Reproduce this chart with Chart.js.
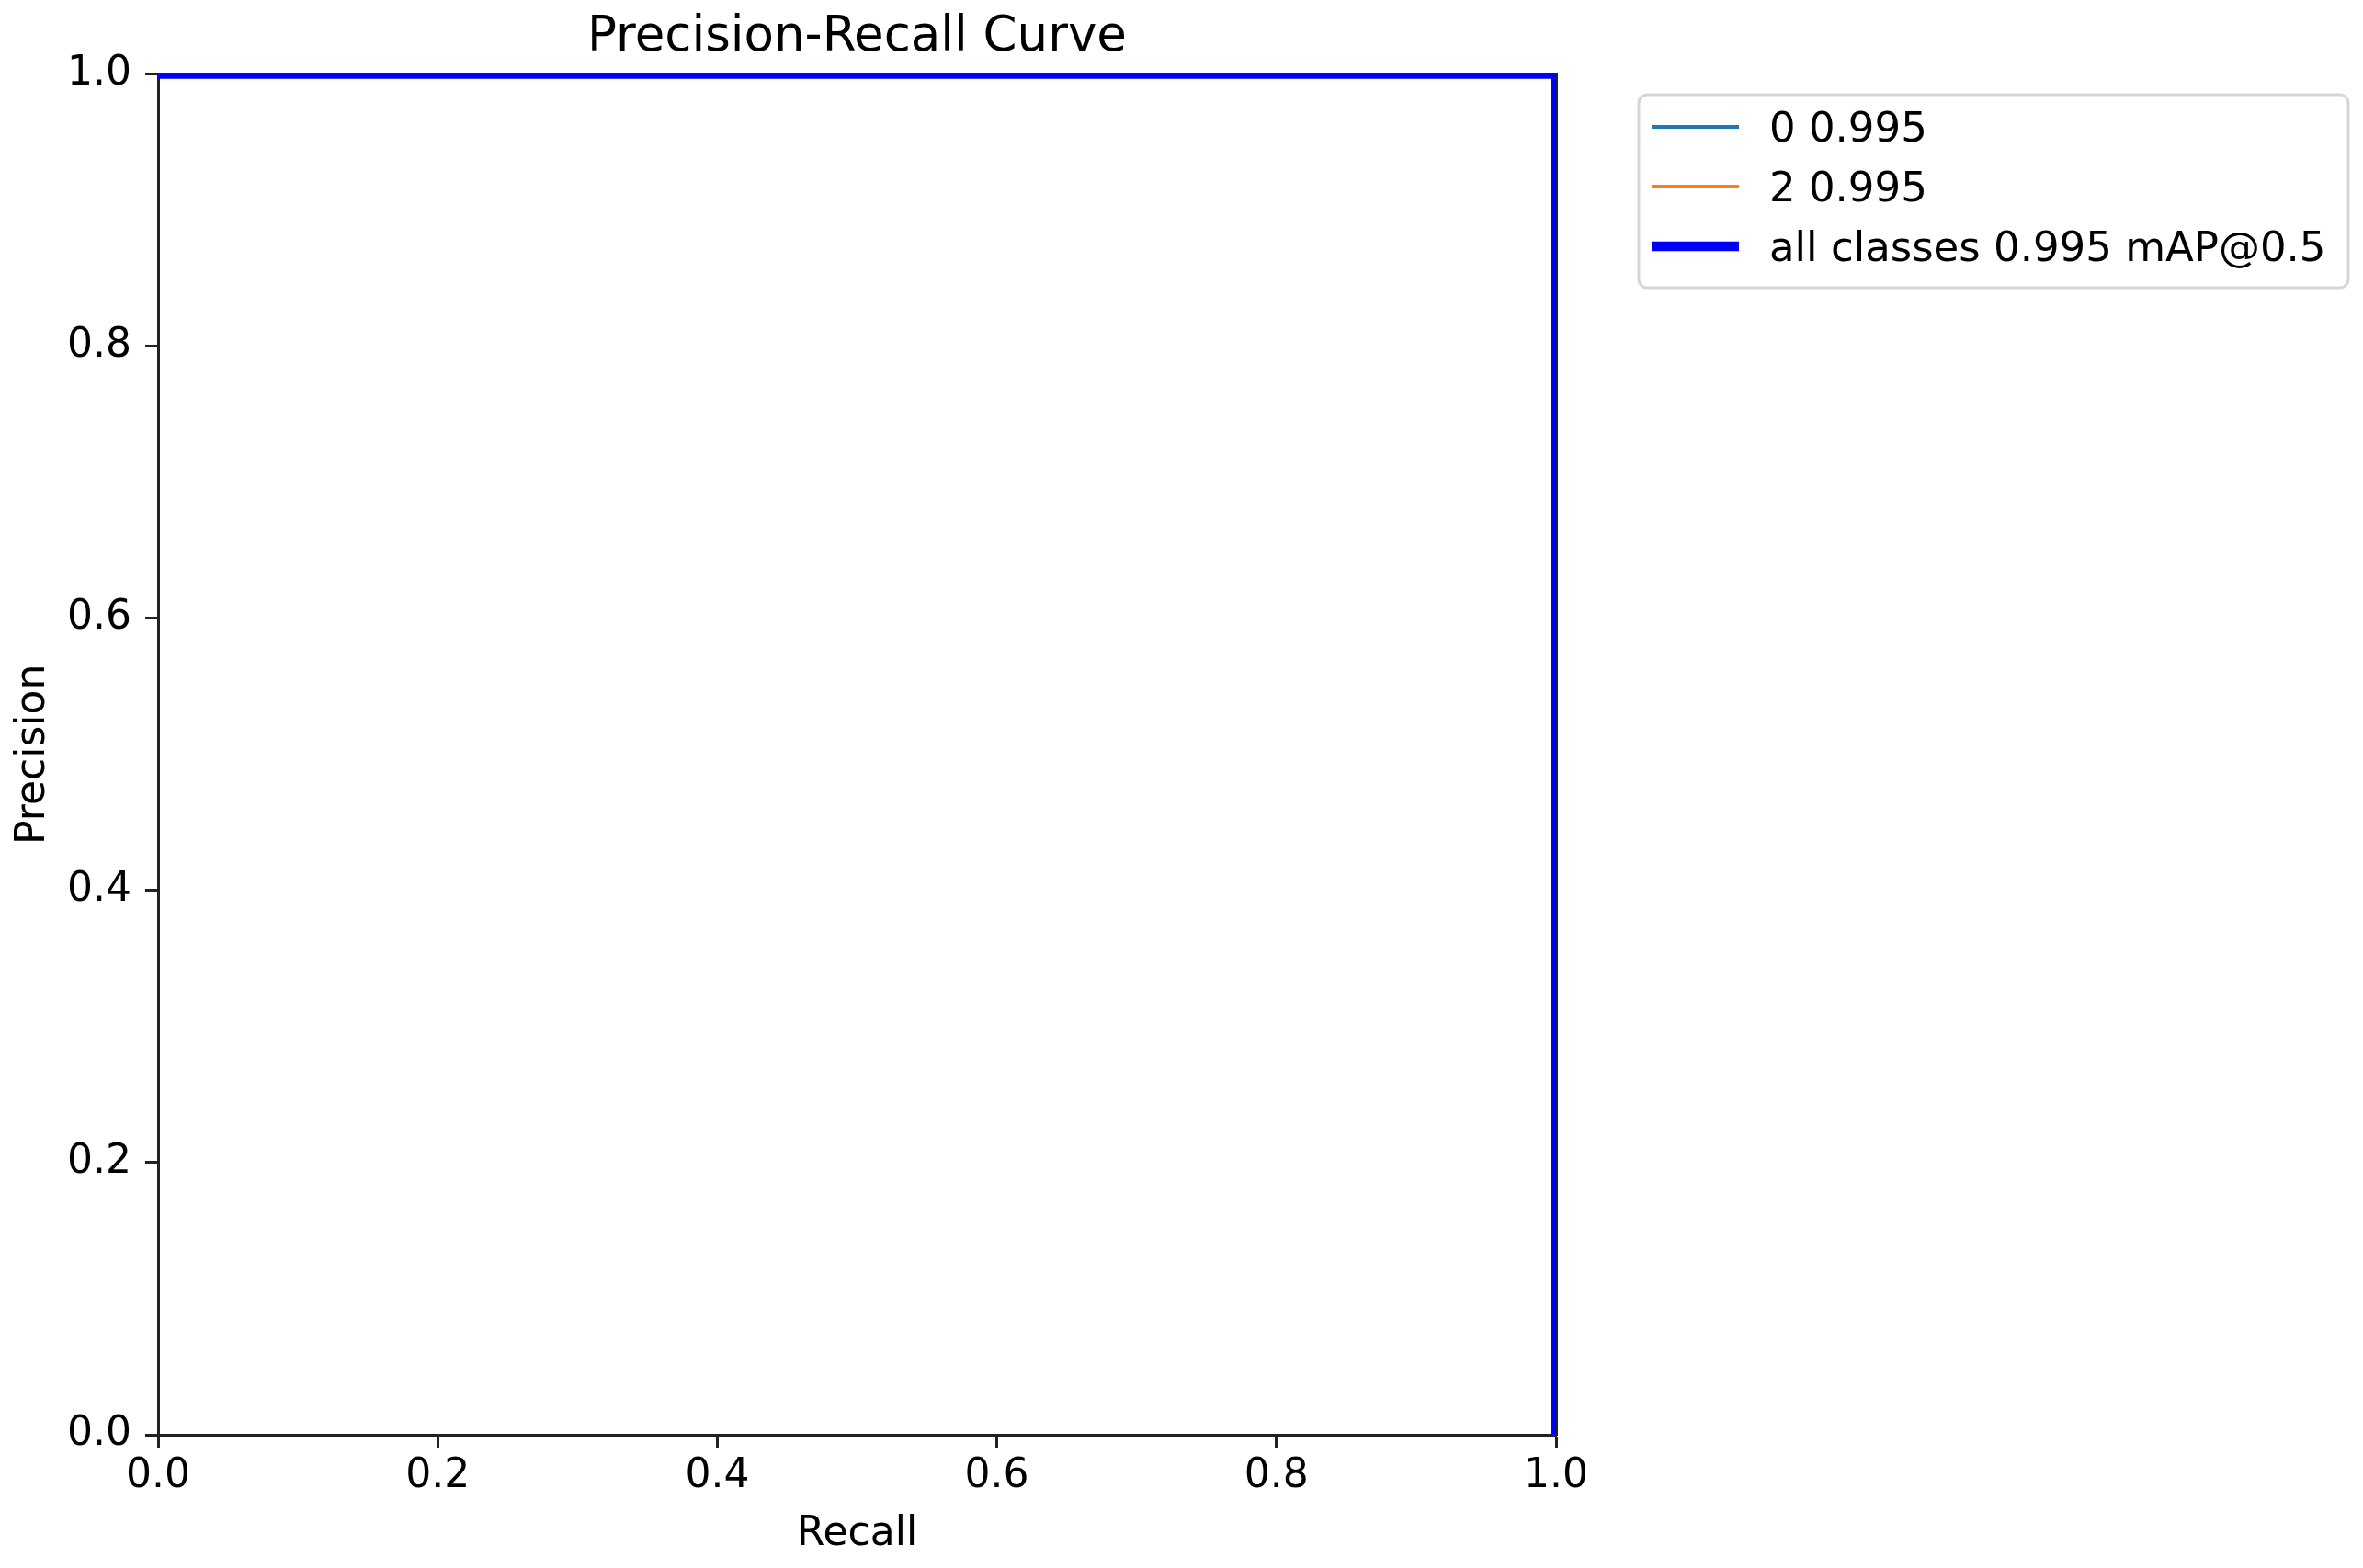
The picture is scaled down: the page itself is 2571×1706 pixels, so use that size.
<!DOCTYPE html>
<html>
<head>
<meta charset="utf-8">
<title>Precision-Recall Curve</title>
<script src="https://cdn.jsdelivr.net/npm/chart.js@4.4.1/dist/chart.umd.min.js"></script>
<style>
  html, body { margin: 0; padding: 0; background: #ffffff; }
  #prCurve { display: block; }
</style>
</head>
<body>
<canvas id="prCurve" width="2571" height="1706"></canvas>
<script>
// PR curve points (recall -> precision)
const class0Recall = [0.0, 1.0, 1.0];
const class0Precision = [1.0, 1.0, 0.0];
const class2Recall = [0.0, 1.0, 1.0];
const class2Precision = [1.0, 1.0, 0.0];
const allRecall = [0.0, 1.0, 1.0];
const allPrecision = [1.0, 1.0, 0.0];

const seriesLabels = ['0 0.995', '2 0.995', 'all classes 0.995 mAP@0.5'];
const tickValues = [0.0, 0.2, 0.4, 0.6, 0.8, 1.0];

const FONT = 'DejaVu Sans';

function toPoints(xs, ys) {
    return xs.map((x, i) => ({ x: x, y: ys[i] }));
}

// matplotlib style legend with a rounded frame, right of the axes
const legendBox = {
    id: 'legendBox',
    afterDraw(chart) {
        const ctx = chart.ctx;
        const area = chart.chartArea;
        const left = area.right + 90;
        const top = 103;
        const width = 772;
        const height = 210;

        ctx.save();
        ctx.beginPath();
        ctx.roundRect(left, top, width, height, 9);
        ctx.fillStyle = 'rgba(255,255,255,0.8)';
        ctx.fill();
        ctx.lineWidth = 3;
        ctx.strokeStyle = '#d6d6d6';
        ctx.stroke();

        ctx.font = '45px "' + FONT + '"';
        ctx.textAlign = 'left';
        ctx.textBaseline = 'alphabetic';
        chart.data.datasets.forEach((ds, i) => {
            const y = top + 35 + i * 65;
            ctx.beginPath();
            ctx.moveTo(left + 14, y);
            ctx.lineTo(left + 109, y);
            ctx.lineWidth = ds.borderWidth;
            ctx.strokeStyle = ds.borderColor;
            ctx.lineCap = 'butt';
            ctx.stroke();
            ctx.fillStyle = '#000000';
            ctx.fillText(ds.label, left + 142, y + 16);
        });
        ctx.restore();
    }
};

const tickFormat = (value) => Number(value).toFixed(1);

new Chart(document.getElementById('prCurve'), {
    type: 'line',
    data: {
        datasets: [
            {
                label: seriesLabels[0],
                data: toPoints(class0Recall, class0Precision),
                borderColor: '#1f77b4',
                borderWidth: 4.2,
                pointRadius: 0,
                tension: 0,
                clip: 0,
                order: 2
            },
            {
                label: seriesLabels[1],
                data: toPoints(class2Recall, class2Precision),
                borderColor: '#ff7f0e',
                borderWidth: 4.2,
                pointRadius: 0,
                tension: 0,
                clip: 0,
                order: 1
            },
            {
                label: seriesLabels[2],
                data: toPoints(allRecall, allPrecision),
                borderColor: '#0000ff',
                borderWidth: 10.5,
                pointRadius: 0,
                tension: 0,
                clip: 0,
                order: 0
            }
        ]
    },
    options: {
        responsive: false,
        animation: false,
        devicePixelRatio: 1,
        layout: { padding: { top: 0, left: 0, bottom: 0, right: 878 } },
        plugins: {
            legend: { display: false },
            tooltip: { enabled: false },
            title: {
                display: true,
                text: 'Precision-Recall Curve',
                color: '#000000',
                fullSize: false,
                font: { family: FONT, size: 53, weight: 'normal' },
                padding: { top: 9, bottom: 8 }
            }
        },
        scales: {
            x: {
                type: 'linear',
                position: 'bottom',
                min: 0,
                max: 1,
                z: 1,
                afterBuildTicks: (scale) => { scale.ticks = tickValues.map(v => ({ value: v })); },
                afterFit: (scale) => { scale.height = 145; },
                ticks: {
                    color: '#000000',
                    padding: 5,
                    maxRotation: 0,
                    font: { family: FONT, size: 44 },
                    callback: tickFormat
                },
                grid: {
                    drawOnChartArea: false,
                    drawTicks: true,
                    tickLength: 14,
                    tickWidth: 3,
                    tickColor: '#222222'
                },
                border: { display: true, color: '#222222', width: 3 },
                title: {
                    display: true,
                    text: 'Recall',
                    color: '#000000',
                    font: { family: FONT, size: 44 },
                    padding: { top: 0, bottom: 10 }
                }
            },
            y: {
                type: 'linear',
                position: 'left',
                min: 0,
                max: 1,
                z: 1,
                afterBuildTicks: (scale) => { scale.ticks = tickValues.map(v => ({ value: v })); },
                afterFit: (scale) => { scale.width = 172; },
                ticks: {
                    color: '#000000',
                    padding: 15,
                    font: { family: FONT, size: 44 },
                    callback: tickFormat
                },
                grid: {
                    drawOnChartArea: false,
                    drawTicks: true,
                    tickLength: 14,
                    tickWidth: 3,
                    tickColor: '#222222'
                },
                border: { display: true, color: '#222222', width: 3 },
                title: {
                    display: true,
                    text: 'Precision',
                    color: '#000000',
                    font: { family: FONT, size: 44 },
                    padding: { top: 10, bottom: 0 }
                }
            },
            // top and right spines only
            xTop: {
                type: 'linear',
                position: 'top',
                min: 0,
                max: 1,
                z: 1,
                afterFit: (scale) => { scale.height = 0; },
                ticks: { display: false },
                grid: { drawOnChartArea: false, drawTicks: false },
                border: { display: true, color: '#222222', width: 3 }
            },
            yRight: {
                type: 'linear',
                position: 'right',
                min: 0,
                max: 1,
                z: 1,
                afterFit: (scale) => { scale.width = 0; },
                ticks: { display: false },
                grid: { drawOnChartArea: false, drawTicks: false },
                border: { display: true, color: '#222222', width: 3 }
            }
        }
    },
    plugins: [legendBox]
});
</script>
</body>
</html>
